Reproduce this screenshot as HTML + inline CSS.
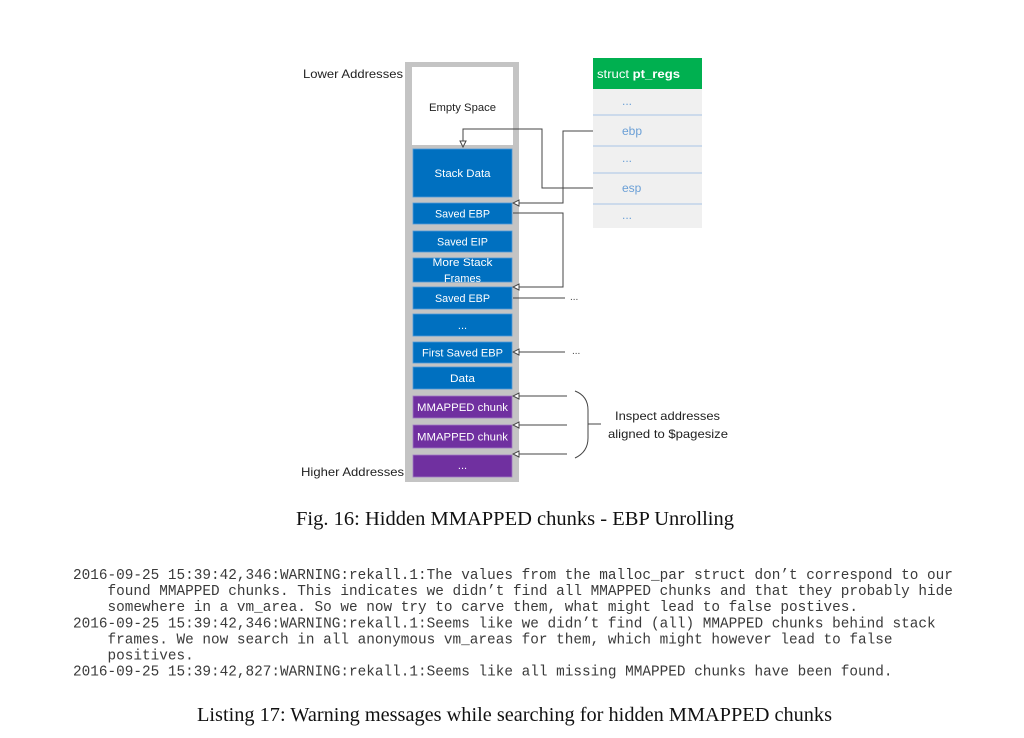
<!DOCTYPE html>
<html><head><meta charset="utf-8"><style>
html,body{margin:0;padding:0;background:#fff;}
svg{display:block;}
</style></head><body>
<svg width="1024" height="738" viewBox="0 0 1024 738" xmlns="http://www.w3.org/2000/svg">
<defs>
<marker id="ah" markerWidth="8" markerHeight="8" refX="7" refY="4" orient="auto" markerUnits="userSpaceOnUse">
<path d="M1,1 L7,4 L1,7 Z" fill="#fff" stroke="#444" stroke-width="1"/>
</marker>
</defs>
<!-- stack frame -->
<rect x="405" y="62" width="114" height="420" fill="#c4c4c4"/>
<rect x="412" y="67" width="101" height="78" fill="#fff"/>
<g font-family="Liberation Sans, sans-serif" font-size="11" text-anchor="middle" fill="#fff">
<rect x="413" y="149" width="99" height="48" fill="#0070c0" stroke="#4f9ad8" stroke-width="0.8"/>
<rect x="413" y="203" width="99" height="21" fill="#0070c0" stroke="#4f9ad8" stroke-width="0.8"/>
<rect x="413" y="231" width="99" height="21" fill="#0070c0" stroke="#4f9ad8" stroke-width="0.8"/>
<rect x="413" y="258" width="99" height="24" fill="#0070c0" stroke="#4f9ad8" stroke-width="0.8"/>
<rect x="413" y="287" width="99" height="22" fill="#0070c0" stroke="#4f9ad8" stroke-width="0.8"/>
<rect x="413" y="314" width="99" height="22" fill="#0070c0" stroke="#4f9ad8" stroke-width="0.8"/>
<rect x="413" y="342" width="99" height="21" fill="#0070c0" stroke="#4f9ad8" stroke-width="0.8"/>
<rect x="413" y="367" width="99" height="22" fill="#0070c0" stroke="#4f9ad8" stroke-width="0.8"/>
<rect x="413" y="396" width="99" height="22" fill="#7030a0" stroke="#a07ac4" stroke-width="0.8"/>
<rect x="413" y="425" width="99" height="23" fill="#7030a0" stroke="#a07ac4" stroke-width="0.8"/>
<rect x="413" y="455" width="99" height="22" fill="#7030a0" stroke="#a07ac4" stroke-width="0.8"/>
<text x="462.5" y="111" fill="#222" textLength="67" lengthAdjust="spacingAndGlyphs">Empty Space</text>
<text x="462.5" y="177" textLength="56" lengthAdjust="spacingAndGlyphs">Stack Data</text>
<text x="462.5" y="217.5" textLength="55" lengthAdjust="spacingAndGlyphs">Saved EBP</text>
<text x="462.5" y="245.5" textLength="51" lengthAdjust="spacingAndGlyphs">Saved EIP</text>
<text x="462.5" y="266" textLength="60" lengthAdjust="spacingAndGlyphs">More Stack</text>
<text x="462.5" y="282" textLength="37" lengthAdjust="spacingAndGlyphs">Frames</text>
<text x="462.5" y="302" textLength="55" lengthAdjust="spacingAndGlyphs">Saved EBP</text>
<text x="462.5" y="329">...</text>
<text x="462.5" y="356.5" textLength="81" lengthAdjust="spacingAndGlyphs">First Saved EBP</text>
<text x="462.5" y="382" textLength="25" lengthAdjust="spacingAndGlyphs">Data</text>
<text x="462.5" y="411" textLength="91" lengthAdjust="spacingAndGlyphs">MMAPPED chunk</text>
<text x="462.5" y="440.5" textLength="91" lengthAdjust="spacingAndGlyphs">MMAPPED chunk</text>
<text x="462.5" y="469">...</text>
</g>
<g font-family="Liberation Sans, sans-serif" font-size="12" fill="#222">
<text x="303" y="78" textLength="100" lengthAdjust="spacingAndGlyphs">Lower Addresses</text>
<text x="301" y="476" textLength="103" lengthAdjust="spacingAndGlyphs">Higher Addresses</text>
<text x="615" y="420" textLength="105" lengthAdjust="spacingAndGlyphs">Inspect addresses</text>
<text x="608" y="438" textLength="120" lengthAdjust="spacingAndGlyphs">aligned to $pagesize</text>
</g>
<!-- pt_regs -->
<rect x="593" y="58" width="109" height="31" fill="#00b050"/>
<rect x="593" y="89" width="109" height="139" fill="#f0f0f0"/>
<g stroke="#a9c4e6" stroke-width="1">
<line x1="593" y1="115" x2="702" y2="115"/>
<line x1="593" y1="146" x2="702" y2="146"/>
<line x1="593" y1="173" x2="702" y2="173"/>
<line x1="593" y1="204" x2="702" y2="204"/>
</g>
<text x="597" y="78" font-family="Liberation Sans, sans-serif" font-size="12" fill="#fff" textLength="83" lengthAdjust="spacingAndGlyphs">struct <tspan font-weight="bold">pt_regs</tspan></text>
<g font-family="Liberation Sans, sans-serif" font-size="12" fill="#6a9fd6">
<text x="622" y="105">...</text>
<text x="622" y="135">ebp</text>
<text x="622" y="162">...</text>
<text x="622" y="192">esp</text>
<text x="622" y="219">...</text>
</g>
<!-- connectors -->
<g fill="none" stroke="#444" stroke-width="1">
<polyline points="593,188 542,188 542,129 463,129 463,147" marker-end="url(#ah)"/>
<polyline points="593,131 563,131 563,203 513,203" marker-end="url(#ah)"/>
<polyline points="513,213 563,213 563,287 513,287" marker-end="url(#ah)"/>
<line x1="513" y1="298" x2="565" y2="298"/>
<line x1="565" y1="352" x2="513" y2="352" marker-end="url(#ah)"/>
<line x1="567" y1="396" x2="513" y2="396" marker-end="url(#ah)"/>
<line x1="567" y1="425" x2="513" y2="425" marker-end="url(#ah)"/>
<line x1="567" y1="454" x2="513" y2="454" marker-end="url(#ah)"/>
<path d="M575,391 Q588,396 588,410 L588,438 Q588,452 575,458"/>
<line x1="588" y1="424" x2="601" y2="424"/>
</g>
<g font-family="Liberation Sans, sans-serif" font-size="10" fill="#444">
<text x="570" y="300">...</text>
<text x="572" y="354">...</text>
</g>
<!-- captions -->
<text x="296" y="525" font-family="Liberation Serif, serif" font-size="19.5" fill="#111" textLength="438" lengthAdjust="spacingAndGlyphs">Fig. 16: Hidden MMAPPED chunks - EBP Unrolling</text>
<g font-family="Liberation Mono, monospace" font-size="14.38" fill="#3a3a3a" xml:space="preserve">
<text x="73" y="579">2016-09-25 15:39:42,346:WARNING:rekall.1:The values from the malloc_par struct don’t correspond to our</text>
<text x="107.5" y="595">found MMAPPED chunks. This indicates we didn’t find all MMAPPED chunks and that they probably hide</text>
<text x="107.5" y="611">somewhere in a vm_area. So we now try to carve them, what might lead to false postives.</text>
<text x="73" y="627.3">2016-09-25 15:39:42,346:WARNING:rekall.1:Seems like we didn’t find (all) MMAPPED chunks behind stack</text>
<text x="107.5" y="643.4">frames. We now search in all anonymous vm_areas for them, which might however lead to false</text>
<text x="107.5" y="659.5">positives.</text>
<text x="73" y="675.7">2016-09-25 15:39:42,827:WARNING:rekall.1:Seems like all missing MMAPPED chunks have been found.</text>
</g>
<text x="197" y="721" font-family="Liberation Serif, serif" font-size="19.5" fill="#111" textLength="635" lengthAdjust="spacingAndGlyphs">Listing 17: Warning messages while searching for hidden MMAPPED chunks</text>
</svg>
</body></html>
